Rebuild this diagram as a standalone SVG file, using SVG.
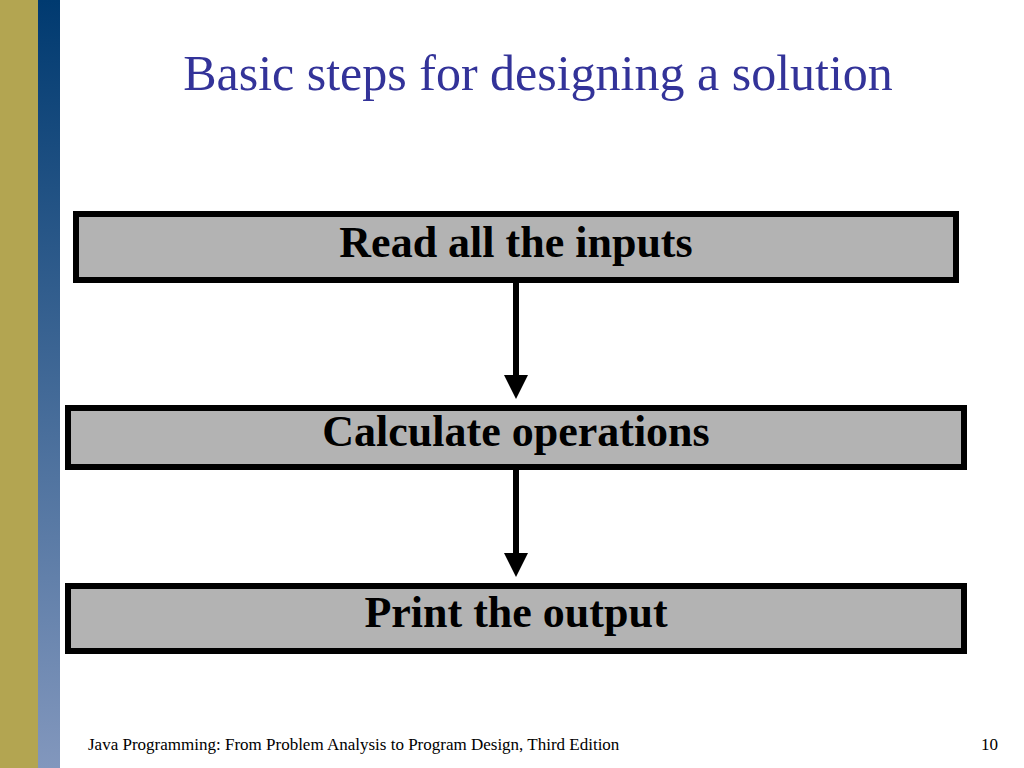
<svg xmlns="http://www.w3.org/2000/svg" width="1024" height="768" viewBox="0 0 1024 768">
<defs>
<linearGradient id="g" x1="0" y1="0" x2="0" y2="1"><stop offset="0" stop-color="#003a70"/><stop offset="1" stop-color="#8297bd"/></linearGradient>
<marker id="a" markerWidth="4" markerHeight="4" refX="3" refY="2" orient="auto" markerUnits="strokeWidth"><path d="M0,0L4,2L0,4z" fill="#000"/></marker>
<style>.b{fill:#b3b3b3;stroke:#000;stroke-width:6}.t{font-family:"Liberation Serif",serif;font-weight:bold;font-size:44px;text-anchor:middle}</style>
</defs>
<rect width="1024" height="768" fill="#fff"/>
<rect x="0" y="0" width="38" height="768" fill="#b3a551"/>
<rect x="38" y="0" width="22" height="768" fill="url(#g)"/>
<text x="538" y="90" font-family="Liberation Serif,serif" font-size="50" fill="#333399" text-anchor="middle">Basic steps for designing a solution</text>
<g id="n1"><rect class="b" x="76" y="214" width="880" height="66"/><text class="t" x="516" y="257">Read all the inputs</text></g>
<g id="n2"><rect class="b" x="68" y="408" width="896" height="59"/><text class="t" x="516" y="446">Calculate operations</text></g>
<g id="n3"><rect class="b" x="68" y="586" width="896" height="65"/><text class="t" x="516" y="627">Print the output</text></g>
<g id="c" stroke="#000" stroke-width="6"><line x1="516" y1="283" x2="516" y2="393" marker-end="url(#a)"/><line x1="516" y1="470" x2="516" y2="571" marker-end="url(#a)"/></g>
<text x="88" y="750" font-family="Liberation Serif,serif" font-size="17">Java Programming: From Problem Analysis to Program Design, Third Edition</text>
<text x="998" y="750" font-family="Liberation Serif,serif" font-size="17" text-anchor="end">10</text>
</svg>
